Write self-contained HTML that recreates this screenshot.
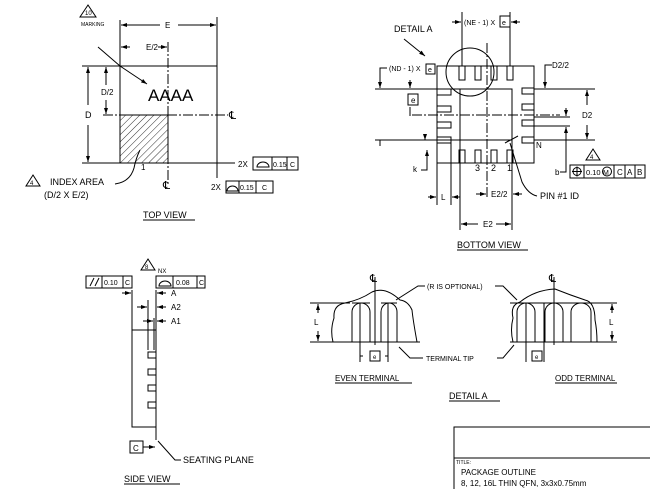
<!DOCTYPE html>
<html><head><meta charset="utf-8"><style>
html,body{margin:0;padding:0;background:#fff;width:650px;height:489px;overflow:hidden}
svg{display:block}
text{font-family:"Liberation Sans",sans-serif;fill:#000}
</style></head><body>
<svg width="650" height="489" viewBox="0 0 650 489" xmlns="http://www.w3.org/2000/svg">
<defs>
<pattern id="h" width="5" height="5" patternUnits="userSpaceOnUse" patternTransform="rotate(45)"><line x1="0" y1="0" x2="0" y2="5" stroke="#000" stroke-width="0.8"/></pattern>
<marker id="ar" markerWidth="6" markerHeight="6" refX="6" refY="3" orient="auto"><path d="M0,1 L6,3 L0,5z" fill="#000"/></marker>
</defs>
<g stroke="#000" stroke-width="1" fill="none">
<!-- TOP VIEW -->
<rect x="120" y="66" width="97" height="97"/>
<rect x="120" y="115" width="48" height="48" fill="url(#h)"/>
<line x1="168" y1="42" x2="168" y2="185" stroke-dasharray="10,2,2,2"/>
<line x1="103" y1="115" x2="228" y2="115" stroke-dasharray="10,2,2,2"/>
<line x1="120" y1="20" x2="120" y2="66"/><line x1="217" y1="17" x2="217" y2="66"/>
<line x1="217" y1="163" x2="217" y2="178"/>
<line x1="160" y1="25" x2="121" y2="25" marker-end="url(#ar)"/>
<line x1="178" y1="25" x2="216" y2="25" marker-end="url(#ar)"/>
<line x1="130" y1="47" x2="121" y2="47" marker-end="url(#ar)"/>
<line x1="158" y1="47" x2="167" y2="47" marker-end="url(#ar)"/>
<line x1="82" y1="66" x2="120" y2="66"/><line x1="82" y1="163" x2="120" y2="163"/>
<line x1="88" y1="105" x2="88" y2="67" marker-end="url(#ar)"/>
<line x1="88" y1="125" x2="88" y2="162" marker-end="url(#ar)"/>
<line x1="106" y1="85" x2="106" y2="67" marker-end="url(#ar)"/>
<line x1="106" y1="100" x2="106" y2="114" marker-end="url(#ar)"/>
<polyline points="98,47 120,66 147,84" marker-end="url(#ar)"/>
<path d="M115,184 Q130,182 134,168 Q136,158 140,150"/>
<line x1="217" y1="163" x2="235" y2="163"/>
<rect x="253" y="157" width="45" height="13"/><line x1="272" y1="157" x2="272" y2="170"/><line x1="287" y1="157" x2="287" y2="170"/>
<rect x="226" y="181" width="47" height="12"/><line x1="239" y1="181" x2="239" y2="193"/><line x1="256" y1="181" x2="256" y2="193"/>
<path d="M257,167 a6,5 0 0 1 12,0 z"/><path d="M227,191 a5.5,5 0 0 1 11,0 z"/>
<path d="M88,5 L96,17 L80,17 z"/>
<path d="M33,175 L40,186 L26,186 z"/>
<line x1="143" y1="220" x2="195" y2="220"/>
<!-- BOTTOM VIEW -->
<rect x="437" y="66" width="97" height="97"/>
<rect x="460" y="89" width="52" height="51"/>
<g>
<rect x="459" y="66" width="6" height="14"/><rect x="475" y="66" width="6" height="14"/><rect x="491" y="66" width="6" height="14"/><rect x="507" y="66" width="6" height="14"/>
<rect x="459" y="150" width="6" height="13"/><rect x="475" y="150" width="6" height="13"/><rect x="491" y="150" width="6" height="13"/><rect x="507" y="150" width="6" height="13"/>
<rect x="437" y="89" width="14" height="6"/><rect x="437" y="106" width="14" height="6"/><rect x="437" y="122" width="14" height="6"/><rect x="437" y="137" width="14" height="6"/>
<rect x="522" y="88" width="12" height="6"/><rect x="522" y="104" width="12" height="6"/><rect x="522" y="120" width="12" height="6"/><rect x="522" y="137" width="12" height="6"/>
</g>
<circle cx="470" cy="72" r="24"/>
<line x1="487" y1="43" x2="487" y2="198" stroke-dasharray="10,2,2,2"/>
<line x1="412" y1="115" x2="560" y2="115" stroke-dasharray="10,2,2,2"/>
<line x1="460" y1="140" x2="460" y2="230"/><line x1="512" y1="140" x2="512" y2="230"/>
<line x1="462" y1="12" x2="462" y2="66"/><line x1="510" y1="12" x2="510" y2="66"/>
<line x1="452" y1="22" x2="461" y2="22" marker-end="url(#ar)"/><line x1="520" y1="22" x2="511" y2="22" marker-end="url(#ar)"/>
<line x1="375" y1="89" x2="460" y2="89"/><line x1="375" y1="140" x2="460" y2="140"/>
<polyline points="387,68 380,68 380,88" marker-end="url(#ar)"/>
<line x1="410" y1="80" x2="410" y2="88" marker-end="url(#ar)"/>
<line x1="410" y1="116" x2="410" y2="107"/>
<line x1="425" y1="134" x2="425" y2="140" marker-end="url(#ar)"/>
<line x1="380" y1="140" x2="380" y2="146"/>
<polyline points="421,170 427,170 427,150" marker-end="url(#ar)"/>
<line x1="534" y1="89" x2="595" y2="89"/><line x1="534" y1="140" x2="595" y2="140"/>
<polyline points="552,65 545,65 545,88" marker-end="url(#ar)"/>
<line x1="587" y1="105" x2="587" y2="90" marker-end="url(#ar)"/>
<line x1="587" y1="125" x2="587" y2="139" marker-end="url(#ar)"/>
<line x1="534" y1="117" x2="570" y2="117"/><line x1="534" y1="126" x2="570" y2="126"/>
<line x1="566" y1="108" x2="566" y2="116" marker-end="url(#ar)"/>
<polyline points="560,172 566,172 566,127" marker-end="url(#ar)"/>
<rect x="570" y="165" width="75" height="13"/>
<line x1="584" y1="165" x2="584" y2="178"/><line x1="614" y1="165" x2="614" y2="178"/><line x1="625" y1="165" x2="625" y2="178"/><line x1="635" y1="165" x2="635" y2="178"/>
<circle cx="577" cy="171.5" r="4"/><line x1="572" y1="171.5" x2="582" y2="171.5"/><line x1="577" y1="166.5" x2="577" y2="176.5"/>
<circle cx="607" cy="171.5" r="4.5"/>
<path d="M593,149 L600,160 L586,160 z"/>
<line x1="437" y1="163" x2="437" y2="205"/><line x1="451" y1="143" x2="451" y2="205"/>
<line x1="428" y1="197" x2="436" y2="197" marker-end="url(#ar)"/><line x1="460" y1="197" x2="452" y2="197" marker-end="url(#ar)"/>
<line x1="476" y1="194" x2="486" y2="194" marker-end="url(#ar)"/><line x1="522" y1="194" x2="513" y2="194" marker-end="url(#ar)"/>
<line x1="478" y1="224" x2="461" y2="224" marker-end="url(#ar)"/><line x1="496" y1="224" x2="511" y2="224" marker-end="url(#ar)"/>
<path d="M510,140 L505,143 L518,136"/>
<path d="M537,196 Q528,194 522,182 L510,143"/>
<line x1="404" y1="39" x2="425" y2="56" marker-end="url(#ar)"/>
<rect x="426" y="64" width="9" height="10"/><rect x="500" y="16" width="10" height="11"/><rect x="408" y="94" width="10" height="11"/>
<line x1="457" y1="250" x2="528" y2="250"/>
<!-- SIDE VIEW -->
<rect x="132" y="330" width="24" height="97"/>
<line x1="156" y1="290" x2="156" y2="440"/>
<line x1="132" y1="290" x2="132" y2="330"/>
<line x1="148" y1="300" x2="148" y2="350"/><line x1="154" y1="318" x2="154" y2="350"/>
<rect x="148" y="352" width="8" height="6"/><rect x="148" y="369" width="8" height="6"/><rect x="148" y="385" width="8" height="6"/><rect x="148" y="402" width="8" height="6"/>
<rect x="86" y="276" width="46" height="12"/><line x1="102" y1="276" x2="102" y2="288"/><line x1="123" y1="276" x2="123" y2="288"/>
<line x1="90" y1="286" x2="94" y2="278"/><line x1="95" y1="286" x2="99" y2="278"/>
<rect x="156" y="276" width="49" height="12"/><line x1="173" y1="276" x2="173" y2="288"/><line x1="197" y1="276" x2="197" y2="288"/>
<path d="M159,286 a6,5 0 0 1 12,0 z"/>
<path d="M148,259 L155,270 L141,270 z"/>
<line x1="122" y1="293" x2="131" y2="293" marker-end="url(#ar)"/><line x1="166" y1="293" x2="157" y2="293" marker-end="url(#ar)"/>
<line x1="137" y1="307" x2="147" y2="307" marker-end="url(#ar)"/><line x1="166" y1="307" x2="157" y2="307" marker-end="url(#ar)"/>
<line x1="143" y1="321" x2="153" y2="321" marker-end="url(#ar)"/><line x1="166" y1="321" x2="157" y2="321" marker-end="url(#ar)"/>
<rect x="130" y="441" width="13" height="12"/>
<line x1="143" y1="447" x2="155" y2="447" marker-end="url(#ar)"/>
<polyline points="181,460 175,460 158,441"/>
<line x1="124" y1="484" x2="180" y2="484"/>
<!-- DETAIL A -->
<line x1="310" y1="303" x2="350" y2="303"/><line x1="310" y1="342" x2="420" y2="342"/>
<line x1="318" y1="313" x2="318" y2="304" marker-end="url(#ar)"/><line x1="318" y1="331" x2="318" y2="341" marker-end="url(#ar)"/>
<path d="M333,342 Q330,330 334,318 Q333,305 345,303 Q360,300 372,292 Q385,286 400,300 Q408,301 412,310 Q413,320 417,342"/>
<path d="M352,342 V312 a9,9 0 0 1 18,0 V342"/><path d="M381,342 V312 a8,9 0 0 1 16,0 V342"/>
<line x1="352" y1="303" x2="370" y2="303"/><line x1="381" y1="303" x2="397" y2="303"/>
<line x1="375" y1="277" x2="375" y2="345"/><line x1="360" y1="303" x2="360" y2="362"/><line x1="388" y1="303" x2="388" y2="362"/>
<line x1="363" y1="356" x2="360" y2="356"/><line x1="385" y1="356" x2="388" y2="356"/>
<rect x="370" y="351" width="10" height="10"/>
<line x1="335" y1="383" x2="412" y2="383"/>
<line x1="510" y1="303" x2="617" y2="303"/><line x1="510" y1="342" x2="617" y2="342"/>
<line x1="612" y1="313" x2="612" y2="304" marker-end="url(#ar)"/><line x1="612" y1="331" x2="612" y2="341" marker-end="url(#ar)"/>
<path d="M513,342 Q510,330 513,318 Q510,305 520,302 Q535,290 555,289 Q570,295 585,300 Q595,302 595,320 Q597,330 597,342"/>
<path d="M517,342 V312 a9,9 0 0 1 18,0 V342"/><path d="M545,342 V312 a9,9 0 0 1 18,0 V342"/><path d="M571,342 V312 a10,9 0 0 1 20,0 V342"/>
<line x1="554" y1="277" x2="554" y2="345"/><line x1="526" y1="303" x2="526" y2="362"/><line x1="544" y1="303" x2="544" y2="362"/>
<rect x="532" y="351" width="10" height="10"/>
<line x1="555" y1="383" x2="617" y2="383"/>
<line x1="449" y1="401" x2="500" y2="401"/>
<polyline points="425,286 418,286 396,300"/><polyline points="495,286 503,286 517,300"/>
<polyline points="423,358 410,358 399,347"/><polyline points="497,358 503,358 514,345"/>
<!-- title block -->
<rect x="454" y="427" width="200" height="70"/><line x1="454" y1="458" x2="650" y2="458"/>
</g>
<g font-size="8">
<text x="165" y="28">E</text><text x="146" y="50">E/2</text>
<text x="101" y="95">D/2</text><text x="85" y="118" font-size="9">D</text>
<text x="148" y="101" font-size="17">AAAA</text>
<text x="229" y="119" font-size="11">℄</text><text x="163" y="189" font-size="11">℄</text>
<text x="238" y="167">2X</text><text x="273" y="167" font-size="7">0.15</text><text x="290" y="167" font-size="7">C</text>
<text x="211" y="190">2X</text><text x="240" y="190" font-size="7">0.15</text><text x="262" y="190" font-size="7">C</text>
<text x="85" y="15" font-size="6">10</text><text x="81" y="26" font-size="5">MARKING</text>
<text x="30" y="185" font-size="6">4</text>
<text x="50" y="185" font-size="9">INDEX AREA</text><text x="44" y="198" font-size="9">(D/2 X E/2)</text>
<text x="141" y="170">1</text>
<text x="143" y="218" font-size="9">TOP VIEW</text>
<text x="394" y="32" font-size="9">DETAIL A</text>
<text x="464" y="25" font-size="7">(NE - 1) X</text><text x="502" y="25" font-size="7">e</text>
<text x="389" y="71" font-size="7">(ND - 1) X</text><text x="428" y="72" font-size="7">e</text><text x="411" y="103">e</text>
<text x="552" y="68">D2/2</text><text x="582" y="118">D2</text><text x="555" y="175">b</text>
<text x="586" y="175" font-size="7.5">0.10</text><text x="603" y="175" font-size="7">M</text><text x="617" y="175">C</text><text x="627" y="175">A</text><text x="637" y="175">B</text>
<text x="590" y="159" font-size="6">4</text>
<text x="536" y="148">N</text><text x="413" y="172">k</text>
<text x="475" y="171" font-size="9">3</text><text x="491" y="171" font-size="9">2</text><text x="507" y="171" font-size="9">1</text>
<text x="540" y="199" font-size="9">PIN #1 ID</text>
<text x="441" y="200">L</text><text x="491" y="197">E2/2</text><text x="483" y="227">E2</text>
<text x="457" y="248" font-size="9">BOTTOM VIEW</text>
<text x="104" y="285" font-size="7">0.10</text><text x="125" y="285" font-size="7">C</text>
<text x="176" y="285" font-size="7">0.08</text><text x="199" y="285" font-size="7">C</text>
<text x="145" y="269" font-size="6">8</text><text x="158" y="273" font-size="6">NX</text>
<text x="171" y="296">A</text><text x="171" y="310">A2</text><text x="171" y="324">A1</text>
<text x="133" y="451">C</text>
<text x="183" y="463" font-size="9">SEATING PLANE</text>
<text x="124" y="482" font-size="9">SIDE VIEW</text>
<text x="370" y="282" font-size="11">℄</text><text x="549" y="282" font-size="11">℄</text>
<text x="314" y="325">L</text><text x="609" y="325">L</text>
<text x="373" y="359" font-size="6">e</text><text x="535" y="359" font-size="6">e</text>
<text x="427" y="289" font-size="7">(R IS OPTIONAL)</text>
<text x="426" y="361" font-size="7">TERMINAL TIP</text>
<text x="335" y="381" font-size="8">EVEN TERMINAL</text><text x="555" y="381" font-size="8">ODD TERMINAL</text>
<text x="449" y="399" font-size="9">DETAIL A</text>
<text x="456" y="464" font-size="5">TITLE:</text>
<text x="461" y="475" font-size="8">PACKAGE OUTLINE</text>
<text x="461" y="486" font-size="8">8, 12, 16L THIN QFN, 3x3x0.75mm</text>
</g>
</svg>
</body></html>
